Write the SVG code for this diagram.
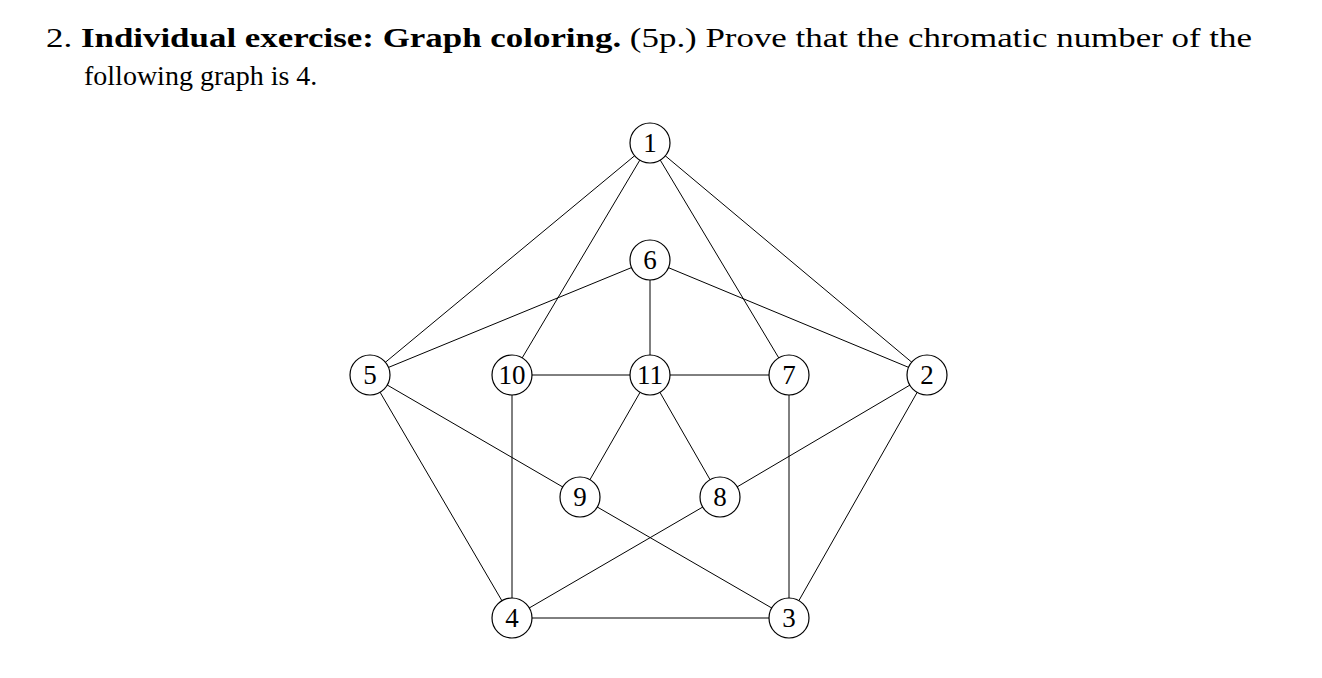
<svg xmlns="http://www.w3.org/2000/svg" width="1322" height="678" viewBox="0 0 1322 678">
<style>
.t{font-family:"Liberation Serif","DejaVu Serif",serif;font-size:28px;fill:#000}
.n circle{fill:#fff;stroke:#000;stroke-width:1.2}
.n text{font-family:"Liberation Serif","DejaVu Serif",serif;font-size:27px;text-anchor:middle;dominant-baseline:central}
#edges line{stroke:#000;stroke-width:1}
</style>
<rect width="1322" height="678" fill="#fff"/>
<text class="t" x="46" y="47" textLength="1206" lengthAdjust="spacingAndGlyphs">2. <tspan font-weight="bold">Individual exercise: Graph coloring.</tspan> (5p.) Prove that the chromatic number of the</text>
<text class="t" x="84" y="85">following graph is 4.</text>
<g id="edges">
<line x1="650" y1="143" x2="370" y2="375"/>
<line x1="650" y1="143" x2="512" y2="375"/>
<line x1="650" y1="143" x2="789" y2="375"/>
<line x1="650" y1="143" x2="927" y2="375"/>
<line x1="650" y1="260" x2="370" y2="375"/>
<line x1="650" y1="260" x2="650" y2="375"/>
<line x1="650" y1="260" x2="927" y2="375"/>
<line x1="370" y1="375" x2="580" y2="497"/>
<line x1="370" y1="375" x2="512" y2="618"/>
<line x1="512" y1="375" x2="650" y2="375"/>
<line x1="512" y1="375" x2="512" y2="618"/>
<line x1="650" y1="375" x2="789" y2="375"/>
<line x1="650" y1="375" x2="580" y2="497"/>
<line x1="650" y1="375" x2="720" y2="497"/>
<line x1="789" y1="375" x2="789" y2="618"/>
<line x1="927" y1="375" x2="720" y2="497"/>
<line x1="927" y1="375" x2="789" y2="618"/>
<line x1="580" y1="497" x2="789" y2="618"/>
<line x1="720" y1="497" x2="512" y2="618"/>
<line x1="512" y1="618" x2="789" y2="618"/>
</g>
<g id="n1" class="n"><circle cx="650" cy="143" r="20"/><text x="650" y="143">1</text></g>
<g id="n6" class="n"><circle cx="650" cy="260" r="20"/><text x="650" y="260">6</text></g>
<g id="n5" class="n"><circle cx="370" cy="375" r="20"/><text x="370" y="375">5</text></g>
<g id="n10" class="n"><circle cx="512" cy="375" r="20"/><text x="512" y="375">10</text></g>
<g id="n11" class="n"><circle cx="650" cy="375" r="20"/><text x="650" y="375">11</text></g>
<g id="n7" class="n"><circle cx="789" cy="375" r="20"/><text x="789" y="375">7</text></g>
<g id="n2" class="n"><circle cx="927" cy="375" r="20"/><text x="927" y="375">2</text></g>
<g id="n9" class="n"><circle cx="580" cy="497" r="20"/><text x="580" y="497">9</text></g>
<g id="n8" class="n"><circle cx="720" cy="497" r="20"/><text x="720" y="497">8</text></g>
<g id="n4" class="n"><circle cx="512" cy="618" r="20"/><text x="512" y="618">4</text></g>
<g id="n3" class="n"><circle cx="789" cy="618" r="20"/><text x="789" y="618">3</text></g>
</svg>
